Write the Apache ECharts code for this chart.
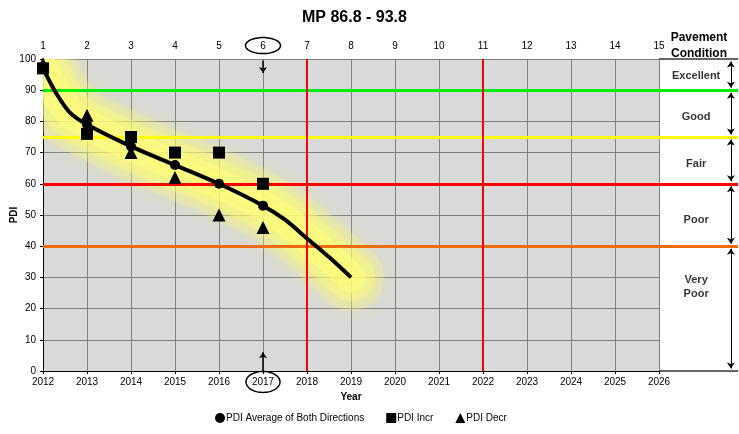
<!DOCTYPE html>
<html><head><meta charset="utf-8">
<script src="https://cdn.jsdelivr.net/npm/echarts@6/dist/echarts.min.js"></script>
<style>html,body{margin:0;padding:0;background:#fff}#c{width:739px;height:434px}</style>
</head><body><div id="c"></div>
<script>
const xMin = 2012, xMax = 2026;
const avgYears  = [2012, 2012.3, 2012.6, 2013, 2014, 2015, 2016, 2017, 2017.5, 2018, 2018.5, 2019];
const avgValues = [97, 89, 83, 79, 72, 66, 60, 53, 48.5, 42.5, 36.5, 30];
const avgMarkerYears = [2013, 2014, 2015, 2016, 2017];
const incrYears  = [2012, 2013, 2014, 2015, 2016, 2017];
const incrValues = [97, 76, 75, 70, 70, 60];
const decrYears  = [2012, 2013, 2014, 2015, 2016, 2017];
const decrValues = [98.5, 82, 70, 62, 50, 46];
const thresholdValues = [90, 75, 60, 40];
const thresholdColors = ['#00ee00', '#ffff00', '#ff0000', '#f06a10'];
const redYears = [2018, 2022];
const conditionNames = ['Excellent', 'Good', 'Fair', 'Poor', 'Very\nPoor'];
const conditionUpper = [100, 90, 75, 60, 40];
const conditionLower = [90, 75, 60, 40, 0];
const conditionLabelAt = [94.5, 81.5, 66.5, 48.5, 27];
const currentYear = 2017;
// circled labels: [year, pdi position, half width px, half height px]
const circledLabels = [[currentYear, 104.3, 17.5, 8], [currentYear, -3.5, 17, 10.5]];

const FONT = 'Liberation Sans, Arial, sans-serif';
const chart = echarts.init(document.getElementById('c'));
const pair = (xs, ys) => xs.map((x, i) => [x, ys[i]]);
const glowLayers = [[66, 0.2], [48, 0.28], [30, 0.45]];

const option = {
  animation: false,
  textStyle: { fontFamily: FONT },
  title: {
    text: 'MP 86.8 - 93.8', left: 297, top: 5,
    textStyle: { fontSize: 16, fontWeight: 'bold', color: '#000', fontFamily: FONT }
  },
  graphic: [{
    type: 'text', x: 699, y: 30,
    style: { text: 'Pavement\nCondition', textAlign: 'center', font: 'bold 12px ' + FONT, fill: '#000', lineHeight: 16 }
  }],
  legend: {
    left: 210, bottom: 6, itemWidth: 10, itemHeight: 10, itemGap: 22,
    textStyle: { fontSize: 10, color: '#000', fontFamily: FONT, padding: [0, 0, 0, -4] },
    data: [
      { name: 'PDI Average of Both Directions', icon: 'circle' },
      { name: 'PDI Incr', icon: 'rect' },
      { name: 'PDI Decr', icon: 'triangle' }
    ]
  },
  grid: [
    { left: 43, right: 80, top: 59, bottom: 63, show: true, backgroundColor: '#d9d9d9', borderWidth: 0, outerBoundsMode: 'none', containLabel: false },
    { left: 659, right: 1, top: 59, bottom: 63, show: false, outerBoundsMode: 'none', containLabel: false }
  ],
  xAxis: [
    {
      gridIndex: 0, type: 'value', min: xMin, max: xMax, interval: 1, position: 'bottom',
      name: 'Year', nameLocation: 'middle', nameGap: 21, nameMoveOverlap: false,
      nameTextStyle: { fontWeight: 'bold', fontSize: 10, color: '#000' },
      axisLine: { lineStyle: { color: '#000', width: 1 } },
      axisTick: { show: true, length: 3, lineStyle: { color: '#000' } },
      axisLabel: { fontSize: 10, color: '#000', margin: 6, formatter: v => String(v) },
      splitLine: { show: true, lineStyle: { color: '#808080', width: 1 } }
    },
    {
      gridIndex: 0, type: 'value', min: xMin, max: xMax, interval: 1, position: 'top',
      axisLine: { show: false }, axisTick: { show: false }, splitLine: { show: false },
      axisLabel: { fontSize: 10, color: '#000', margin: 8, formatter: v => String(v - xMin + 1) }
    },
    { gridIndex: 1, type: 'value', min: 0, max: 100, show: false }
  ],
  yAxis: [
    {
      gridIndex: 0, type: 'value', min: 0, max: 100, interval: 10,
      name: 'PDI', nameLocation: 'middle', nameGap: 24, nameRotate: 90, nameMoveOverlap: false,
      nameTextStyle: { fontWeight: 'bold', fontSize: 10, color: '#000' },
      axisLine: { show: true, lineStyle: { color: '#000', width: 1 } },
      axisTick: { show: true, length: 3, lineStyle: { color: '#000' } },
      axisLabel: { fontSize: 10, color: '#000', margin: 7 },
      splitLine: { show: true, lineStyle: { color: '#808080', width: 1 } }
    },
    { gridIndex: 1, type: 'value', min: 0, max: 100, show: false }
  ],
  series: [
    {
      name: 'glow', type: 'custom', xAxisIndex: 0, yAxisIndex: 0, z: 1, silent: true, clip: true,
      data: pair(avgYears, avgValues),
      renderItem: (params, api) => {
        if (params.dataIndex !== 0) return;
        const pts = avgYears.map((x, i) => api.coord([x, avgValues[i]]));
        return {
          type: 'group',
          children: glowLayers.map(([w, a]) => ({
            type: 'polyline', shape: { points: pts, smooth: 0.3 },
            style: { fill: 'none', stroke: 'rgba(255,255,130,' + a + ')', lineWidth: w, lineCap: 'round', lineJoin: 'round',
              shadowBlur: 18, shadowColor: 'rgba(255,255,90,1)' }
          }))
        };
      }
    },
    {
      name: 'lines', type: 'line', xAxisIndex: 0, yAxisIndex: 0, z: 2, data: [], clip: false,
      markLine: {
        silent: true, symbol: 'none', animation: false, label: { show: false },
        data: thresholdValues.map((v, i) => ({ yAxis: v, lineStyle: { color: thresholdColors[i], width: 3, type: 'solid' } }))
          .concat(redYears.map(y => ({ xAxis: y, lineStyle: { color: '#ff0000', width: 2, type: 'solid' } })))
          .concat([
            [{ coord: [currentYear, 99.5], symbol: 'none' }, { coord: [currentYear, 95.5], symbol: 'arrow', symbolSize: [6, 6] }],
            [{ coord: [currentYear, 0], symbol: 'none' }, { coord: [currentYear, 6], symbol: 'arrow', symbolSize: [6, 6] }]
          ].map(d => { d[0].lineStyle = { color: '#000', width: 1.5, type: 'solid' }; return d; }))
      }
    },
    {
      name: 'circled', type: 'custom', xAxisIndex: 0, yAxisIndex: 0, z: 8, silent: true, clip: false,
      data: circledLabels,
      renderItem: (params, api) => {
        const c = api.coord([api.value(0), api.value(1)]);
        const rx = api.value(2), ry = api.value(3);
        const cx = c[0], cy = c[1];
        const pts = [];
        for (let k = 0; k <= 64; k++) {
          const t = k / 64 * Math.PI * 2;
          pts.push([cx + rx * Math.cos(t), cy + ry * Math.sin(t)]);
        }
        return { type: 'polygon', shape: { points: pts }, style: { fill: 'none', stroke: '#000', lineWidth: 1.5 } };
      }
    },
    {
      name: 'PDI Average of Both Directions', type: 'line', xAxisIndex: 0, yAxisIndex: 0, z: 5,
      data: pair(avgYears, avgValues), smooth: 0.3, symbol: 'circle',
      symbolSize: v => avgMarkerYears.includes(v[0]) ? 10 : 0,
      showAllSymbol: true,
      itemStyle: { color: '#000', opacity: 1 },
      lineStyle: { width: 4, color: '#000' }
    },
    {
      name: 'PDI Incr', type: 'scatter', xAxisIndex: 0, yAxisIndex: 0, z: 6,
      data: pair(incrYears, incrValues), symbol: 'rect', symbolSize: 12, itemStyle: { color: '#000', opacity: 1 }
    },
    {
      name: 'PDI Decr', type: 'scatter', xAxisIndex: 0, yAxisIndex: 0, z: 6,
      data: pair(decrYears, decrValues), symbol: 'triangle', symbolSize: 13, itemStyle: { color: '#000', opacity: 1 }
    },
    {
      name: 'panel', type: 'scatter', xAxisIndex: 2, yAxisIndex: 1, z: 4, symbolSize: 0, silent: true,
      data: conditionNames.map((n, i) => ({ value: [47, conditionLabelAt[i]], name: n })),
      label: { show: true, position: 'inside', formatter: p => p.name, fontWeight: 'bold', fontSize: 11,
        color: '#000', lineHeight: 14, align: 'center' },
      markLine: {
        silent: true, animation: false, label: { show: false }, symbol: 'none',
        data: thresholdValues.map((v, i) => ({ yAxis: v, lineStyle: { color: thresholdColors[i], width: 3, type: 'solid' } }))
          .concat([100, 0].map(v => ({ yAxis: v, lineStyle: { color: '#333', width: 1.5, type: 'solid' } })))
          .concat(conditionUpper.map((u, i) => [
            { coord: [91, u - 0.8], symbol: 'arrow', symbolSize: [6, 6], lineStyle: { color: '#000', width: 1, type: 'solid' } },
            { coord: [91, conditionLower[i] + 0.8], symbol: 'arrow', symbolSize: [6, 6] }
          ]))
      }
    }
  ]
};
chart.setOption(option);
</script>
</body></html>
